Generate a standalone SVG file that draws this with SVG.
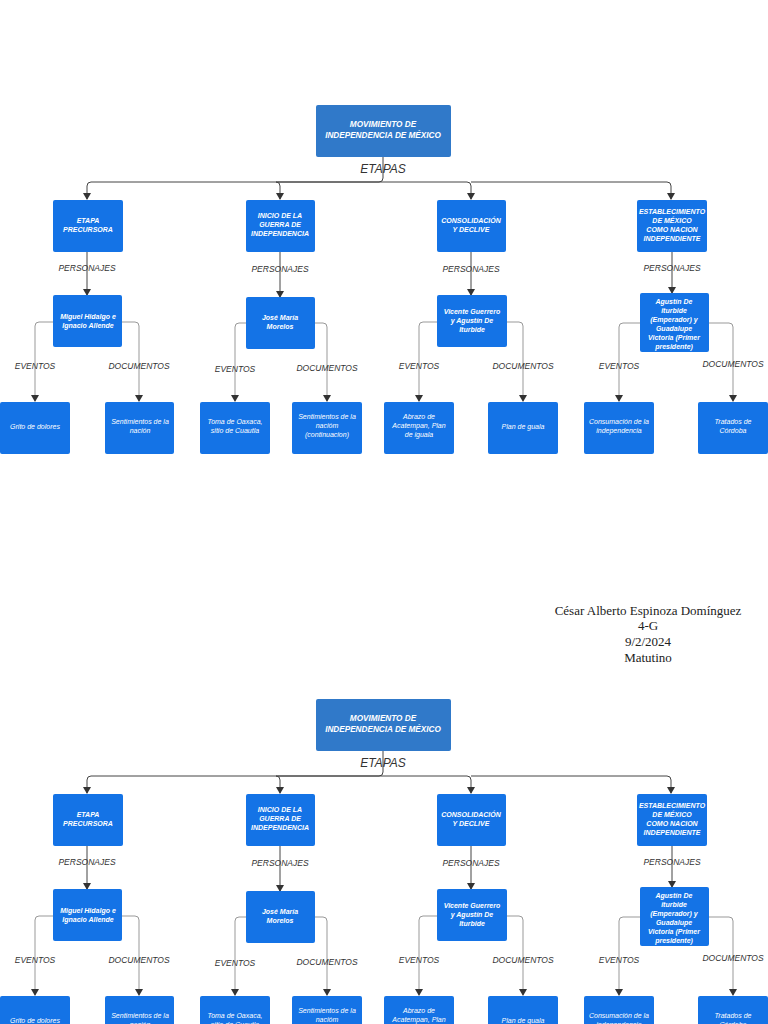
<svg xmlns="http://www.w3.org/2000/svg" xmlns:xlink="http://www.w3.org/1999/xlink" width="768" height="1024" viewBox="0 0 768 1024">
<style>
.t{font-family:"Liberation Sans",Arial,sans-serif;font-style:italic;fill:#fff;text-anchor:middle}
.b{font-weight:bold;font-size:7px}
.n{font-size:7px}
.l{font-family:"Liberation Sans",Arial,sans-serif;font-style:italic;fill:#333;font-size:8.5px;text-anchor:middle}
.c{fill:none;stroke:#444;stroke-width:1}
.g{fill:none;stroke:#999;stroke-width:1}
.box{fill:#1473e6}
.au{font-family:"Liberation Serif","Times New Roman",serif;font-size:13px;fill:#222;text-anchor:middle}
</style>
<defs>
<marker id="ar" markerWidth="8" markerHeight="8" refX="6" refY="4" orient="auto" markerUnits="userSpaceOnUse"><path d="M0,0 L7,4 L0,8 Z" fill="#333"/></marker>
</defs>
<rect width="768" height="1024" fill="#fff"/>
<g id="page">
<g id="connectors">
<path class="c" d="M383,157 V178 Q383,182 379,182 H91 Q87,182 87,186 V199" marker-end="url(#ar)"/>
<path class="c" d="M383,182 H276 Q280,182 280,186 V199" marker-end="url(#ar)"/>
<path class="c" d="M383,182 H467 Q471,182 471,186 V199" marker-end="url(#ar)"/>
<path class="c" d="M471,182 H667 Q671,182 671,186 V199" marker-end="url(#ar)"/>
<path class="c" d="M87,252 V295" marker-end="url(#ar)"/>
<path class="c" d="M280,252 V297" marker-end="url(#ar)"/>
<path class="c" d="M471,252 V295" marker-end="url(#ar)"/>
<path class="c" d="M672,252 V293" marker-end="url(#ar)"/>
<path class="g" d="M53,322 H39 Q35,322 35,326 V401" marker-end="url(#ar)"/>
<path class="g" d="M122,322 H135 Q139,322 139,326 V401" marker-end="url(#ar)"/>
<path class="g" d="M246,323 H239 Q235,323 235,327 V401" marker-end="url(#ar)"/>
<path class="g" d="M315,323 H323 Q327,323 327,327 V401" marker-end="url(#ar)"/>
<path class="g" d="M437,322 H423 Q419,322 419,326 V401" marker-end="url(#ar)"/>
<path class="g" d="M506,322 H519 Q523,322 523,326 V401" marker-end="url(#ar)"/>
<path class="g" d="M640,323 H623 Q619,323 619,327 V401" marker-end="url(#ar)"/>
<path class="g" d="M709,323 H729 Q733,323 733,327 V401" marker-end="url(#ar)"/>
</g>
<g id="labels">
<text class="l" x="383" y="173" style="font-size:12px">ETAPAS</text>
<text class="l" x="87" y="271">PERSONAJES</text>
<text class="l" x="280" y="272">PERSONAJES</text>
<text class="l" x="471" y="272">PERSONAJES</text>
<text class="l" x="672" y="271">PERSONAJES</text>
<text class="l" x="35" y="369">EVENTOS</text>
<text class="l" x="139" y="369">DOCUMENTOS</text>
<text class="l" x="235" y="372">EVENTOS</text>
<text class="l" x="327" y="371">DOCUMENTOS</text>
<text class="l" x="419" y="369">EVENTOS</text>
<text class="l" x="523" y="369">DOCUMENTOS</text>
<text class="l" x="619" y="369">EVENTOS</text>
<text class="l" x="733" y="367">DOCUMENTOS</text>
</g>
<g id="n-root"><rect x="316" y="105" width="135" height="52" rx="2" fill="#3079c9"/><text class="t b" x="383" y="127" style="font-size:8.2px">MOVIMIENTO DE</text><text class="t b" x="383" y="138" style="font-size:8.2px">INDEPENDENCIA DE MÉXICO</text></g>
<g id="n-e1"><rect class="box" x="53" y="200" width="70" height="52" rx="2"/><text class="t b" x="88" y="223">ETAPA</text><text class="t b" x="88" y="232">PRECURSORA</text></g>
<g id="n-e2"><rect class="box" x="246" y="200" width="69" height="52" rx="2"/><text class="t b" x="280" y="218">INICIO DE LA</text><text class="t b" x="280" y="227">GUERRA DE</text><text class="t b" x="280" y="236">INDEPENDENCIA</text></g>
<g id="n-e3"><rect class="box" x="437" y="200" width="69" height="52" rx="2"/><text class="t b" x="471" y="223">CONSOLIDACIÓN</text><text class="t b" x="471" y="232">Y DECLIVE</text></g>
<g id="n-e4"><rect class="box" x="637" y="200" width="70" height="52" rx="2"/><text class="t b" x="672" y="214">ESTABLECIMIENTO</text><text class="t b" x="672" y="223">DE MÉXICO</text><text class="t b" x="672" y="232">COMO NACION</text><text class="t b" x="672" y="241">INDEPENDIENTE</text></g>
<g id="n-p1"><rect class="box" x="53" y="295" width="69" height="52" rx="2"/><text class="t b" x="88" y="319">Miguel Hidalgo e</text><text class="t b" x="88" y="328">Ignacio Allende</text></g>
<g id="n-p2"><rect class="box" x="246" y="297" width="69" height="52" rx="2"/><text class="t b" x="280" y="320">José María</text><text class="t b" x="280" y="329">Morelos</text></g>
<g id="n-p3"><rect class="box" x="437" y="295" width="70" height="52" rx="2"/><text class="t b" x="472" y="314">Vicente Guerrero</text><text class="t b" x="472" y="323">y Agustín De</text><text class="t b" x="472" y="332">Iturbide</text></g>
<g id="n-p4"><rect class="box" x="640" y="293" width="69" height="59" rx="2"/><text class="t b" x="674" y="304">Agustín De</text><text class="t b" x="674" y="313">iturbide</text><text class="t b" x="674" y="322">(Emperador) y</text><text class="t b" x="674" y="331">Guadalupe</text><text class="t b" x="674" y="340">Victoria (Primer</text><text class="t b" x="674" y="349">presidente)</text></g>
<g id="n-l1"><rect class="box" x="0" y="402" width="70" height="52" rx="2"/><text class="t n" x="35" y="429">Grito de dolores</text></g>
<g id="n-l2"><rect class="box" x="105" y="402" width="69" height="52" rx="2"/><text class="t n" x="140" y="424">Sentimientos de la</text><text class="t n" x="140" y="433">nación</text></g>
<g id="n-l3"><rect class="box" x="200" y="402" width="70" height="52" rx="2"/><text class="t n" x="235" y="424">Toma de Oaxaca,</text><text class="t n" x="235" y="433">sitio de Cuautla</text></g>
<g id="n-l4"><rect class="box" x="292" y="402" width="70" height="52" rx="2"/><text class="t n" x="327" y="419">Sentimientos de la</text><text class="t n" x="327" y="428">nacióm</text><text class="t n" x="327" y="437">(continuacion)</text></g>
<g id="n-l5"><rect class="box" x="384" y="402" width="70" height="52" rx="2"/><text class="t n" x="419" y="419">Abrazo de</text><text class="t n" x="419" y="428">Acatempan, Plan</text><text class="t n" x="419" y="437">de iguala</text></g>
<g id="n-l6"><rect class="box" x="488" y="402" width="70" height="52" rx="2"/><text class="t n" x="523" y="429">Plan de guala</text></g>
<g id="n-l7"><rect class="box" x="584" y="402" width="70" height="52" rx="2"/><text class="t n" x="619" y="424">Consumación de la</text><text class="t n" x="619" y="433">independencia</text></g>
<g id="n-l8"><rect class="box" x="698" y="402" width="70" height="52" rx="2"/><text class="t n" x="733" y="424">Tratados de</text><text class="t n" x="733" y="433">Córdoba</text></g>
</g>
<use xlink:href="#page" href="#page" y="594"/>
<g id="author">
<text class="au" x="648" y="615">César Alberto Espinoza Domínguez</text>
<text class="au" x="648" y="630">4-G</text>
<text class="au" x="648" y="646">9/2/2024</text>
<text class="au" x="648" y="662">Matutino</text>
</g>
</svg>
